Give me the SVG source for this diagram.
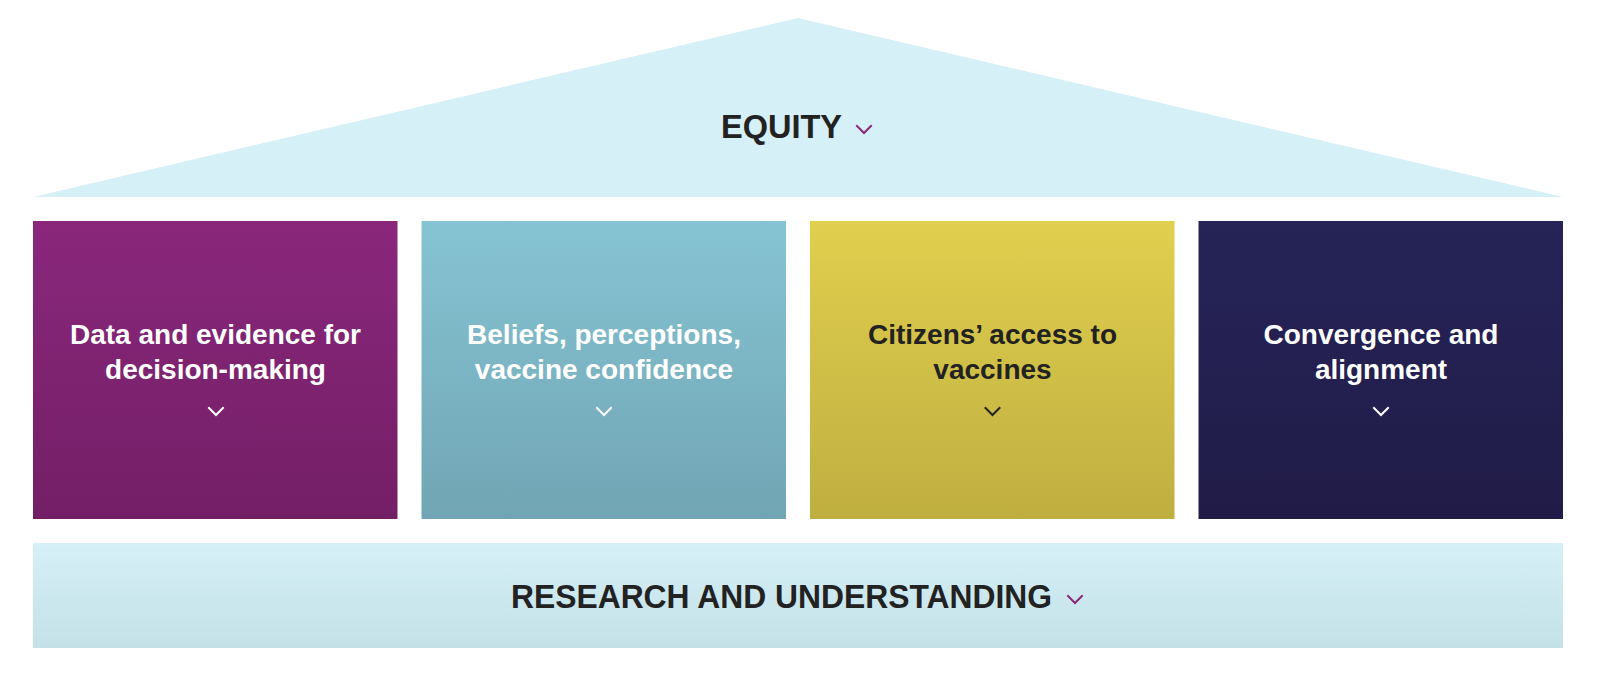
<svg xmlns="http://www.w3.org/2000/svg" width="1600" height="678" viewBox="0 0 1600 678">
<defs>
<linearGradient id="gPurple" x1="0" y1="0" x2="0" y2="1"><stop offset="0" stop-color="#8A277B"/><stop offset="1" stop-color="#731F66"/></linearGradient>
<linearGradient id="gTeal" x1="0" y1="0" x2="0" y2="1"><stop offset="0" stop-color="#86C4D3"/><stop offset="1" stop-color="#71A5B4"/></linearGradient>
<linearGradient id="gYellow" x1="0" y1="0" x2="0" y2="1"><stop offset="0" stop-color="#E1CF4E"/><stop offset="1" stop-color="#BFAF40"/></linearGradient>
<linearGradient id="gNavy" x1="0" y1="0" x2="0" y2="1"><stop offset="0" stop-color="#262358"/><stop offset="1" stop-color="#211C47"/></linearGradient>
<linearGradient id="gBar" x1="0" y1="0" x2="0" y2="1"><stop offset="0" stop-color="#D5F0F7"/><stop offset="1" stop-color="#C4E1E7"/></linearGradient>
</defs>
<style>
.head{font-family:"Liberation Sans",Arial,sans-serif;font-weight:700;font-size:33px;fill:#222222;}
.lbl{font-family:"Liberation Sans",Arial,sans-serif;font-weight:700;font-size:28px;text-anchor:middle;}
.w{fill:#FFFFFF;}
.d{fill:#222222;}
.chev{fill:none;stroke-width:2;stroke-linecap:square;}
.cw{stroke:#FFFFFF;}
.cd{stroke:#222222;}
.cp{stroke:#8B287A;}
</style>
<rect width="1600" height="678" fill="#FFFFFF"/>
<g id="equity">
<polygon points="33,197 798,18 1563,197" fill="#D5F0F7"/>
<text class="head" x="721" y="138" textLength="121" lengthAdjust="spacingAndGlyphs">EQUITY</text>
<polyline class="chev cp" points="857,126 864,133 871,126"/>
</g>
<g id="pillar-data">
<rect x="33" y="221" width="364.5" height="298" fill="url(#gPurple)"/>
<text class="lbl w" x="215.5" y="344">Data and evidence for</text>
<text class="lbl w" x="215.5" y="379">decision-making</text>
<polyline class="chev cw" points="209,408 216,415 223,408"/>
</g>
<g id="pillar-beliefs">
<rect x="421.5" y="221" width="364.5" height="298" fill="url(#gTeal)"/>
<text class="lbl w" x="604" y="344">Beliefs, perceptions,</text>
<text class="lbl w" x="604" y="379">vaccine confidence</text>
<polyline class="chev cw" points="597,408 604,415 611,408"/>
</g>
<g id="pillar-access">
<rect x="810" y="221" width="364.5" height="298" fill="url(#gYellow)"/>
<text class="lbl d" x="992.5" y="344">Citizens’ access to</text>
<text class="lbl d" x="992.5" y="379">vaccines</text>
<polyline class="chev cd" points="985.5,408 992.5,415 999.5,408"/>
</g>
<g id="pillar-convergence">
<rect x="1198.5" y="221" width="364.5" height="298" fill="url(#gNavy)"/>
<text class="lbl w" x="1381" y="344">Convergence and</text>
<text class="lbl w" x="1381" y="379">alignment</text>
<polyline class="chev cw" points="1374,408 1381,415 1388,408"/>
</g>
<g id="research">
<rect x="33" y="543" width="1530" height="105" fill="url(#gBar)"/>
<text class="head" x="511" y="608" textLength="541" lengthAdjust="spacingAndGlyphs">RESEARCH AND UNDERSTANDING</text>
<polyline class="chev cp" points="1068,596 1075,603 1082,596"/>
</g>
</svg>
